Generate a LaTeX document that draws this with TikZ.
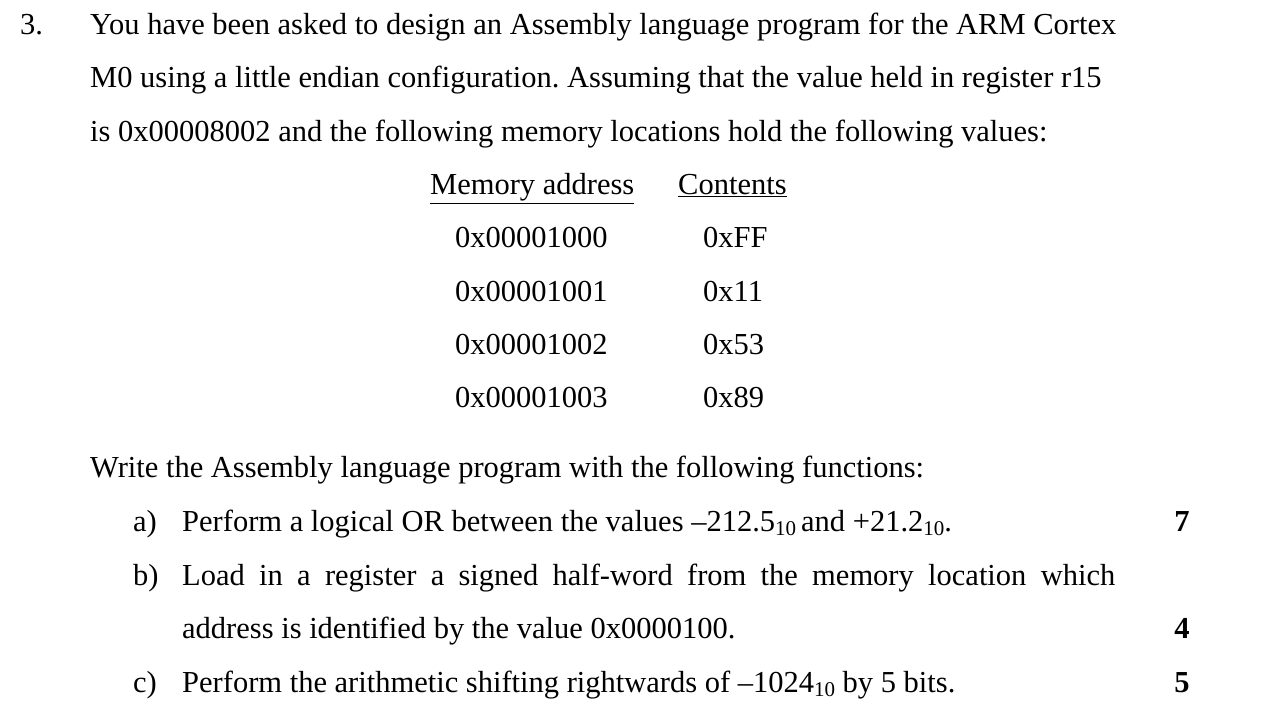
\documentclass[tikz,border=0pt]{standalone}
\usepackage{fontspec}
\setmainfont{Liberation Serif}
\newcommand{\sbs}[1]{\raisebox{-0.15em}{\fontsize{21}{24}\selectfont #1}}
\begin{document}
\begin{tikzpicture}[x=1pt,y=1pt,
  t/.style={anchor=base west,inner sep=0pt,font=\fontsize{30.5}{36}\selectfont\frenchspacing},
  n/.style={anchor=base,inner sep=0pt,font=\fontsize{30.5}{36}\selectfont\bfseries}]
\useasboundingbox (0,0) rectangle (1265,715);
\node[t] (q) at (20,680) {3.};
\node[t] (l1) at (90,680) {You have been asked to design an Assembly language program for the ARM Cortex};
\node[t] (l2) at (90,627) {M0 using a little endian configuration. Assuming that the value held in register r15};
\node[t] (l3) at (90,573) {is 0x00008002 and the following memory locations hold the following values:};
\node[t] (h1) at (430,520) {\underline{Memory address}};
\node[t] (h2) at (678,520) {\underline{Contents}};
\node[t] (a1) at (455,467) {0x00001000}; \node[t] (c1) at (703,467) {0xFF};
\node[t] (a2) at (455,413) {0x00001001}; \node[t] (c2) at (703,413) {0x11};
\node[t] (a3) at (455,360) {0x00001002}; \node[t] (c3) at (703,360) {0x53};
\node[t] (a4) at (455,307) {0x00001003}; \node[t] (c4) at (703,307) {0x89};
\node[t] (w) at (90,237) {Write the Assembly language program with the following functions:};
\node[t] (la) at (133,184) {a)};
\node[t] (ta) at (182,184) {Perform a logical OR between the values –212.5\sbs{10}\,and +21.2\sbs{10}.};
\node[n] (na) at (1182,184) {7};
\node[t] (lb) at (133,130) {b)};
\node[t] (tb) at (182,130) {\hbox to 933pt{Load\hfill in\hfill a\hfill register\hfill a\hfill signed\hfill half-word\hfill from\hfill the\hfill memory\hfill location\hfill which}};
\node[t] (tb2) at (182,77) {address is identified by the value 0x0000100.};
\node[n] (nb) at (1182,77) {4};
\node[t] (lc) at (133,23) {c)};
\node[t] (tc) at (182,23) {Perform the arithmetic shifting rightwards of –1024\sbs{10} by 5 bits.};
\node[n] (nc) at (1182,23) {5};
\end{tikzpicture}
\end{document}
